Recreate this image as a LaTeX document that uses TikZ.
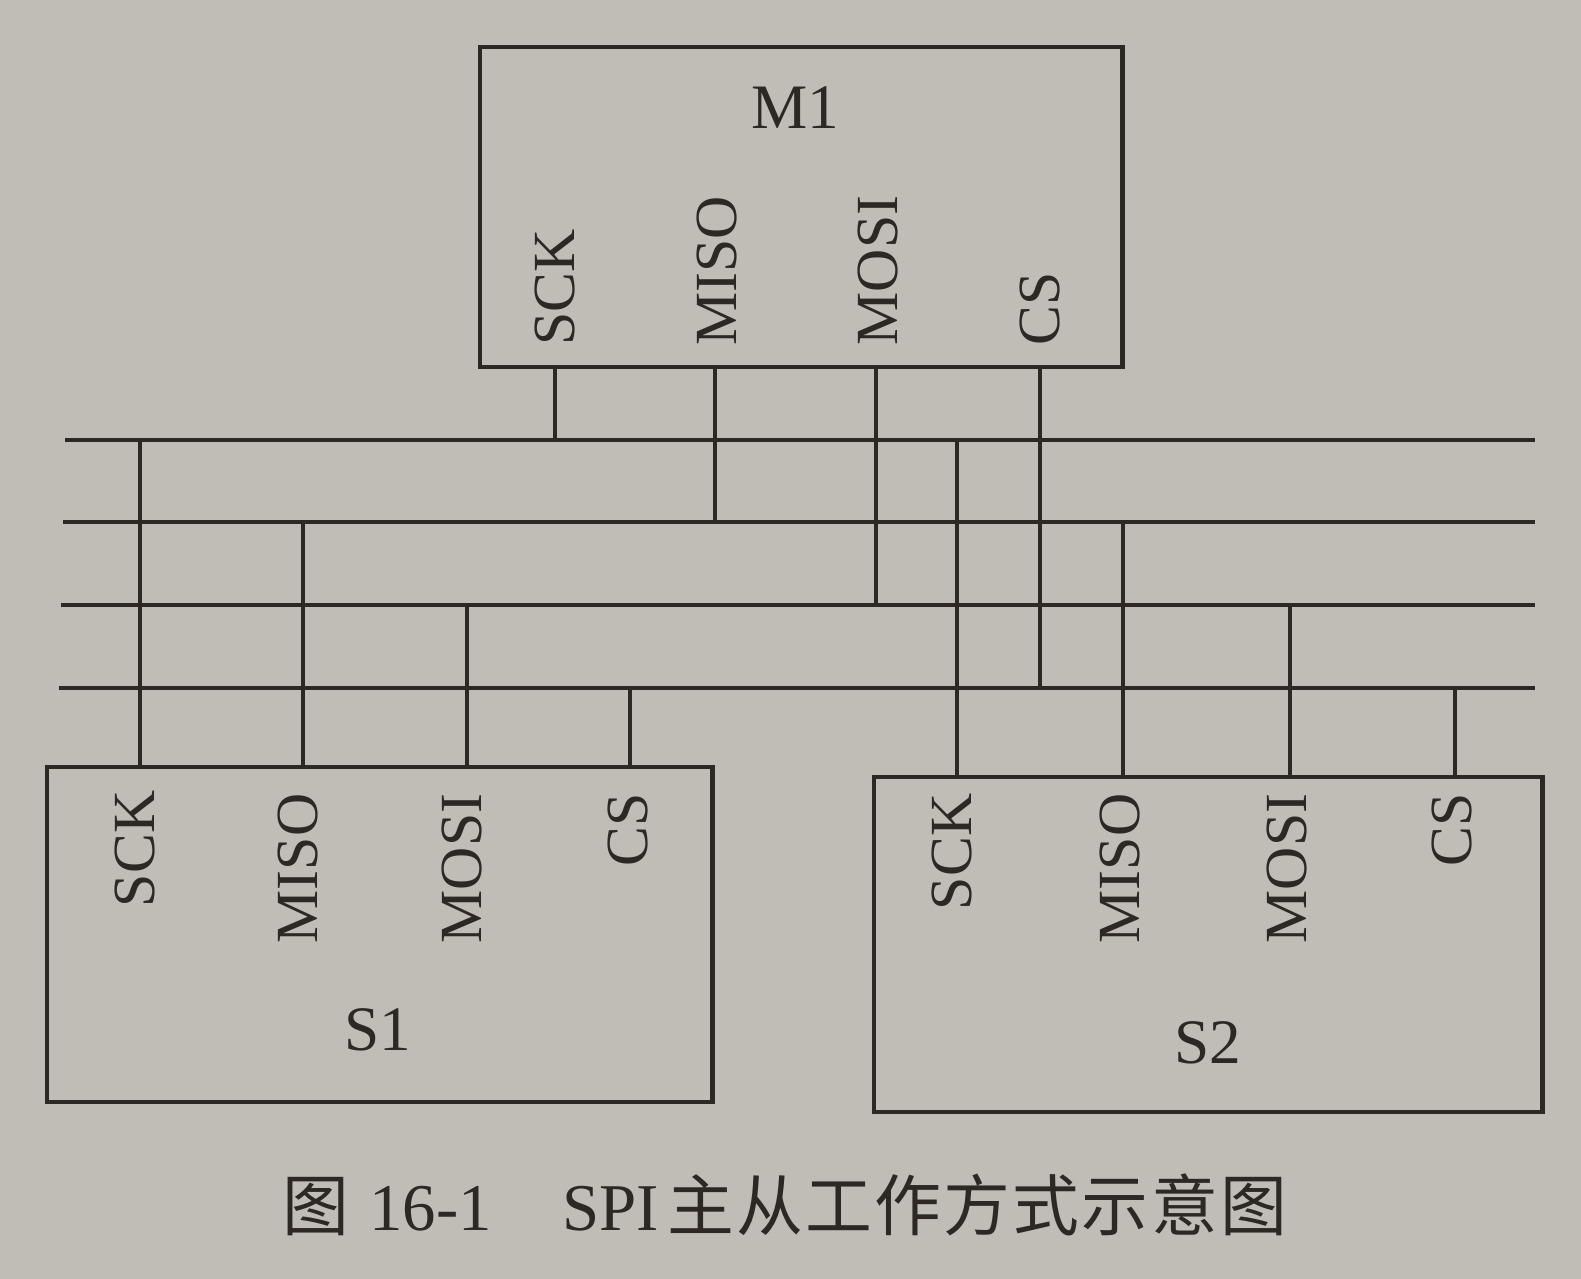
\documentclass[tikz,border=0pt]{standalone}
\usepackage{fontspec}
\setmainfont{Liberation Serif}
\newfontfamily\cjk{Noto Sans CJK SC}
\definecolor{paper}{RGB}{192,188,182}
\definecolor{ink}{RGB}{45,40,36}
\newcommand{\cjkbox}[1]{\makebox[0.69cm]{\cjk #1}}
\begin{document}
\begin{tikzpicture}[x=0.01cm,y=-0.01cm,
  box/.style={draw=ink,line width=1.2pt,inner sep=0pt,anchor=north west},
  wire/.style={draw=ink,line width=1.2pt},
  pinlbl/.style={text=ink,font=\fontsize{17}{20}\selectfont,rotate=90,inner sep=0pt},
  title/.style={text=ink,font=\fontsize{18}{22}\selectfont,inner sep=0pt}]
\fill[paper] (0,0) rectangle (1581,1279);
\useasboundingbox (0,0) rectangle (1581,1279);
% boxes
\node (M1) [box,minimum width=6.42cm,minimum height=3.2cm] at (478,45) {};
\node (S1) [box,minimum width=6.65cm,minimum height=3.35cm] at (45,765) {};
\node (S2) [box,minimum width=6.68cm,minimum height=3.35cm] at (872,775) {};
\node (M1t) [title] at (795,108) {M1};
\node (S1t) [title] at (378,1030) {S1};
\node (S2t) [title] at (1208,1043) {S2};
% M1 pin labels (bottom aligned)
\node (mSCK)  [pinlbl,anchor=west] at (555,346) {SCK};
\node (mMISO) [pinlbl,anchor=west] at (717,346) {MISO};
\node (mMOSI) [pinlbl,anchor=west] at (878,346) {MOSI};
\node (mCS)   [pinlbl,anchor=west] at (1040,346) {CS};
% S1 pin labels (top aligned)
\node (aSCK)  [pinlbl,anchor=east] at (135,790) {SCK};
\node (aMISO) [pinlbl,anchor=east] at (298,793) {MISO};
\node (aMOSI) [pinlbl,anchor=east] at (462,793) {MOSI};
\node (aCS)   [pinlbl,anchor=east] at (628,793) {CS};
% S2 pin labels
\node (bSCK)  [pinlbl,anchor=east] at (952,793) {SCK};
\node (bMISO) [pinlbl,anchor=east] at (1120,793) {MISO};
\node (bMOSI) [pinlbl,anchor=east] at (1287,793) {MOSI};
\node (bCS)   [pinlbl,anchor=east] at (1452,793) {CS};
% bus lines
\coordinate (b1l) at (65,440);  \coordinate (b1r) at (1535,440);
\coordinate (b2l) at (63,522);  \coordinate (b2r) at (1535,522);
\coordinate (b3l) at (61,605);  \coordinate (b3r) at (1535,605);
\coordinate (b4l) at (59,688);  \coordinate (b4r) at (1535,688);
\draw[wire] (b1l) -- (b1r);
\draw[wire] (b2l) -- (b2r);
\draw[wire] (b3l) -- (b3r);
\draw[wire] (b4l) -- (b4r);
% M1 to bus
\coordinate (m1) at (555,0); \coordinate (m2) at (715,0);
\coordinate (m3) at (876,0); \coordinate (m4) at (1040,0);
\draw[wire] (m1 |- M1.south) -- (m1 |- b1l);
\draw[wire] (m2 |- M1.south) -- (m2 |- b2l);
\draw[wire] (m3 |- M1.south) -- (m3 |- b3l);
\draw[wire] (m4 |- M1.south) -- (m4 |- b4l);
% S1 to bus
\coordinate (s1) at (140,0); \coordinate (s2) at (303,0);
\coordinate (s3) at (467,0); \coordinate (s4) at (630,0);
\draw[wire] (s1 |- b1l) -- (s1 |- S1.north);
\draw[wire] (s2 |- b2l) -- (s2 |- S1.north);
\draw[wire] (s3 |- b3l) -- (s3 |- S1.north);
\draw[wire] (s4 |- b4l) -- (s4 |- S1.north);
% S2 to bus
\coordinate (t1) at (957,0); \coordinate (t2) at (1123,0);
\coordinate (t3) at (1290,0); \coordinate (t4) at (1455,0);
\draw[wire] (t1 |- b1l) -- (t1 |- S2.north);
\draw[wire] (t2 |- b2l) -- (t2 |- S2.north);
\draw[wire] (t3 |- b3l) -- (t3 |- S2.north);
\draw[wire] (t4 |- b4l) -- (t4 |- S2.north);
% caption
\node (cap) [text=ink,font=\fontsize{19}{23}\selectfont,inner sep=0pt,anchor=west] at (282,1205)
  {{\cjk 图}\hspace{0.2cm}16-1\hspace{0.7cm}SPI\hspace{0.08cm}\cjkbox{主}\cjkbox{从}\cjkbox{工}\cjkbox{作}\cjkbox{方}\cjkbox{式}\cjkbox{示}\cjkbox{意}\cjkbox{图}};
\end{tikzpicture}
\end{document}
